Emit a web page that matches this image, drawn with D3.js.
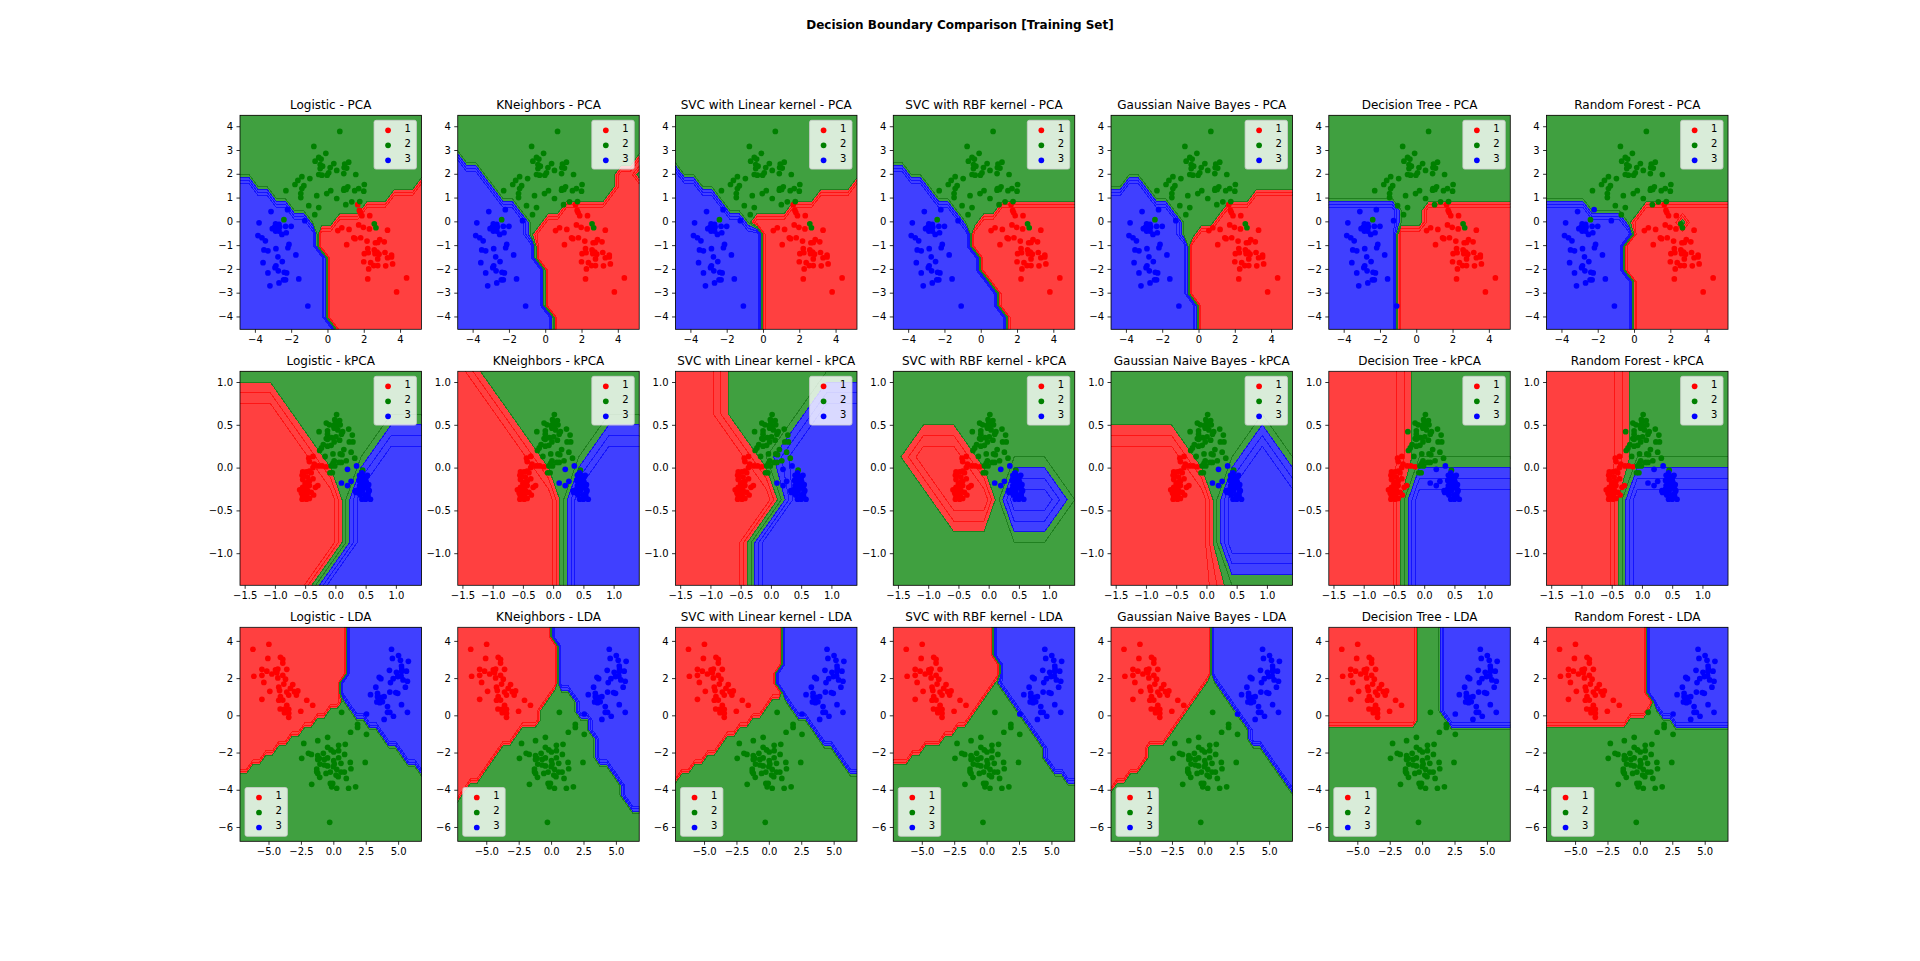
<!DOCTYPE html>
<html><head><meta charset="utf-8">
<script src="https://d3js.org/d3.v7.min.js"></script>
<style>html,body{margin:0;padding:0;background:#fff}svg{display:block}text{font-family:"DejaVu Sans";fill:#000}</style>
</head><body><svg id="c" width="1920" height="961"></svg>
<script>
const suptitle="Decision Boundary Comparison [Training Set]";
const classifiers=["Logistic","KNeighbors","SVC with Linear kernel","SVC with RBF kernel","Gaussian Naive Bayes","Decision Tree","Random Forest"];
const legendLabels=["1","2","3"];
const classColors=["#ff0000","#008000","#0000ff"];

// scatter values, per projection and class
const pca1=[[1.67,.70],[1.76,.46],[1.81,.37],[1.90,.24],[2.33,.24],[.57,-.39],[.79,-.27],[1.19,-.34],[1.72,-.15],[1.98,-.25],[2.31,-.32],[3.31,-.37],[1.45,-.69],[1.52,-.73],[1.83,-.69],[1.06,-.98],[2.18,-.83],[2.64,-.90],[2.77,-.89],[2.88,-.77],[3.13,-.86],[2.22,-1.15],[2.03,-1.36],[2.25,-1.32],[2.58,-1.20],[2.62,-1.36],[2.73,-1.29],[2.84,-1.38],[3.17,-1.31],[3.31,-1.53],[3.53,-1.42],[3.53,-1.50],[2.0,-1.70],[2.38,-1.74],[2.55,-1.86],[2.77,-1.58],[2.77,-1.86],[2.27,-2.0],[3.21,-1.87],[3.59,-1.79],[2.22,-2.42],[4.36,-2.38],[3.81,-2.97]];
const pca2=[[.68,3.78],[-.75,3.15],[-.09,2.86],[-.48,2.69],[-.68,2.53],[-.35,2.62],[-.40,2.39],[-.27,2.32],[-.40,2.22],[.35,2.43],[.15,2.26],[.51,2.14],[.95,2.41],[1.17,2.49],[.92,2.26],[1.06,2.24],[.07,2.04],[-.02,1.94],[-.48,1.97],[-.31,1.94],[.90,2.01],[1.56,1.97],[-.97,1.80],[-1.41,1.88],[-1.63,1.72],[-1.79,1.55],[-1.30,1.50],[-1.41,1.38],[-1.47,1.17],[-1.47,1.0],[-2.29,1.29],[2.03,1.55],[-.59,1.08],[.18,1.29],[-.04,1.17],[.92,1.38],[1.12,1.45],[.90,1.31],[1.03,1.34],[1.50,1.29],[1.72,1.38],[2.0,1.27],[.51,.96],[1.34,.82],[1.78,.83],[1.01,.70],[-1.03,.66],[-.48,.58],[-.70,.28],[-2.40,.07],[2.58,-.10],[2.67,-.27]];
const pca3=[[-3.11,.41],[-2.20,.49],[-3.77,-.06],[-1.25,.03],[-2.86,-.10],[-2.67,-.13],[-2.91,-.24],[-3.04,-.31],[-2.78,-.28],[-2.64,-.24],[-2.31,-.21],[-2.0,-.21],[-2.86,-.41],[-2.67,-.41],[-2.51,-.55],[-2.27,-.48],[-3.83,-.60],[-3.61,-.69],[-3.42,-.82],[-2.12,-.97],[-2.18,-1.11],[-2.84,-1.15],[-3.5,-1.2],[-3.28,-1.24],[-1.74,-1.41],[-2.73,-1.49],[-2.49,-1.69],[-3.55,-1.74],[-2.84,-1.87],[-2.89,-1.95],[-2.71,-2.08],[-3.28,-2.17],[-2.38,-2.14],[-2.25,-2.17],[-1.58,-2.42],[-2.42,-2.46],[-2.31,-2.46],[-2.67,-2.59],[-3.17,-2.71],[-1.08,-3.56]];
const kpca1=[[-.37,.13],[-.44,.11],[-.43,.07],[-.35,.04],[-.28,.02],[-.22,.02],[-.15,.01],[-.37,0],[-.43,-.04],[-.54,-.05],[-.48,-.05],[-.55,-.09],[-.40,-.06],[-.46,-.11],[-.54,-.14],[-.43,-.16],[-.50,-.19],[-.29,-.21],[-.33,-.23],[-.46,-.21],[-.54,-.23],[-.59,-.26],[-.51,-.27],[-.46,-.27],[-.56,-.30],[-.36,-.32],[-.48,-.31],[-.54,-.34],[-.55,-.37],[-.48,-.37],[-.43,-.36],[-.51,-.30],[-.43,-.21],[-.48,-.25],[-.53,-.09],[-.37,-.13],[-.46,-.17],[-.47,-.34],[-.40,-.29]];
const kpca2=[[.02,.62],[-.15,.52],[-.10,.50],[-.27,.42],[-.13,.43],[-.01,.56],[.07,.55],[0,.52],[-.03,.49],[.02,.48],[.08,.50],[-.02,.46],[.04,.44],[.12,.42],[.22,.45],[.10,.39],[-.13,.39],[-.15,.34],[-.06,.35],[.07,.32],[-.02,.30],[.28,.38],[.23,.30],[.29,.30],[-.13,.25],[-.07,.26],[-.20,.27],[-.23,.23],[-.26,.20],[.14,.21],[-.17,.13],[-.04,.16],[.08,.16],[.11,.15],[.26,.18],[.32,.11],[-.02,.08],[-.04,.05],[.06,.06],[.10,.06],[.18,.08],[-.09,-.06],[-.05,-.06],[-.07,.02],[-.01,.02],[.45,-.03],[-.13,.33],[.01,.36]];
const kpca3=[[.20,-.02],[.35,.02],[.10,-.18],[.26,-.16],[.20,-.21],[.44,-.06],[.40,-.09],[.53,-.09],[.45,-.12],[.50,-.13],[.39,-.15],[.45,-.17],[.51,-.17],[.55,-.20],[.40,-.21],[.47,-.22],[.51,-.23],[.33,-.27],[.39,-.25],[.45,-.27],[.56,-.27],[.54,-.30],[.41,-.32],[.49,-.32],[.44,-.37],[.50,-.37],[.54,-.34],[.58,-.37],[.48,-.18],[.40,-.30],[.34,-.29],[.45,-.09],[.54,-.25]];
const lda1=[[-4.97,3.82],[-6.2,3.55],[-5.05,3.06],[-4.08,3.12],[-3.9,3.01],[-3.9,2.81],[-5.51,2.47],[-5.13,2.37],[-5.51,2.15],[-6.13,2.10],[-4.74,2.22],[-4.46,2.44],[-4.28,2.49],[-4.36,2.29],[-3.59,2.47],[-4.28,2.01],[-3.9,2.15],[-3.69,1.94],[-5.36,1.77],[-3.82,1.68],[-3.13,1.65],[-4.21,1.51],[-3.31,1.45],[-4.15,1.33],[-4.9,1.29],[-3.59,1.25],[-3.0,1.27],[-2.74,1.31],[-3.44,1.09],[-2.85,1.09],[-4.08,1.0],[-5.51,.86],[-4.21,.81],[-3.9,.82],[-2.05,.81],[-3.59,.54],[-1.59,.54],[-4.1,.34],[-3.79,.32],[-3.44,.32],[-2.51,.22],[-3.77,.14],[-3.44,.11],[-3.44,-.11]];
const lda2=[[.64,.16],[1.87,-.48],[1.87,-.65],[1.33,-.91],[2.56,-1.02],[-.44,-1.18],[-1.2,-1.36],[-2.28,-1.51],[-.44,-1.72],[.41,-1.61],[.92,-1.56],[-.18,-1.86],[.03,-1.97],[.41,-1.90],[-.77,-2.04],[-1.92,-2.04],[-1.69,-2.1],[-2.44,-2.31],[-1.2,-2.17],[-1.08,-2.31],[-.44,-2.29],[-.69,-2.37],[.87,-2.1],[.41,-2.28],[.03,-2.44],[-1.2,-2.37],[-1.03,-2.62],[-.69,-2.67],[.08,-2.62],[-.44,-2.72],[0,-2.76],[1.31,-2.53],[2.46,-2.53],[-1.28,-2.89],[.59,-2.58],[.26,-2.9],[-1.28,-3.03],[-1.2,-3.12],[-.56,-3.12],[-.23,-3.05],[.59,-3.05],[.85,-3.05],[.21,-3.21],[.38,-3.3],[-1.05,-3.33],[1.36,-2.87],[1.0,-3.39],[-1.67,-3.71],[-.23,-3.66],[-.05,-3.66],[-.13,-3.84],[.26,-3.92],[1.18,-3.92],[1.72,-3.84],[-.28,-5.75]];
const lda3=[[4.49,3.55],[5.03,3.21],[4.56,3.06],[5.18,2.96],[5.79,2.9],[5.26,2.65],[5.28,2.49],[4.33,2.42],[4.87,2.31],[5.26,2.35],[5.64,2.37],[3.54,2.04],[3.67,1.97],[4.62,1.97],[4.97,2.08],[5.23,2.11],[5.38,1.9],[5.72,1.83],[4.41,1.76],[3.28,1.51],[5.56,1.51],[4.36,1.25],[4.82,1.22],[4.97,1.18],[3.41,1.18],[2.87,1.11],[3.56,.91],[3.41,1.0],[3.92,1.0],[3.67,.97],[3.36,.72],[3.59,.68],[3.79,.73],[5.26,.57],[4.18,.47],[5.72,.16],[4.18,.16],[4.36,.16],[2.56,.07],[4.64,-.05],[3.92,-.22]];

// predicted class on each classifier's coarse mesh. PCA rows: [cells of class 3 from the left, first cell of class 1]; the rows above are all class 2
const pcaLogistic=[[2,20],[4,17],[6,14],[8,11],[9,9],[9,9],[10,10],[10,10],[10,10],[10,10],[10,10],[10,10],[11,11]];
const pcaKNeighbors=[[1,20],[3,18],[4,18],[5,17],[7,12],[8,10],[8,9],[9,9],[9,9],[10,10],[10,10],[10,10],[10,10],[11,11],[11,11]];
const pcaSvcLinear=[[1,21],[3,20],[5,16],[6,13],[8,9],[10,10],[10,10],[10,10],[10,10],[10,10],[10,10],[10,10],[10,10],[10,10]];
const pcaSvcRbf=[[2,21],[4,21],[5,21],[7,12],[8,10],[9,9],[9,9],[10,10],[10,10],[11,11],[12,12],[12,12],[13,13],[13,13]];
const pcaBayes=[[0,21],[5,16],[7,13],[8,12],[8,10],[9,9],[9,9],[9,9],[9,9],[9,9],[10,10],[10,10],[10,10]];
const pcaTree=[[8,11],[8,11],[8,8],[8,8],[8,8],[8,8],[8,8],[8,8],[8,8],[8,8],[8,8]];
const pcaForest=[[5,11],[9,10],[10,10],[9,9],[9,9],[9,9],[10,10],[10,10],[10,10],[10,10],[10,10]];
// single mesh cells that do not fit the row pattern: [classifier index, row, column, class]
const pcaCellExceptions=[[1,5,20,2],[4,6,2,3],[4,6,3,3],[6,9,15,2]];
// kPCA mesh, one digit per cell, top row first
const kpcaLogistic=["2222222","1122222","1112233","1111333","1111333","1113333"];
const kpcaKNeighbors=["1222222","1122222","1112233","1111333","1111333","1111333"];
const kpcaSvcLinear=["1122222","1122233","1112333","1111333","1113333","1113333"];
const kpcaSvcRbf=["2222222","2222222","2112222","2211332","2222222","2222222"];
const kpcaBayes=["2222222","2222222","1112232","1111333","1111333","1111222"];
const kpcaTree=["1112222","1112222","1112222","1113333","1113333","1113333"];
const kpcaForest=["1112222","1112222","1112222","1113333","1113333","1113333"];
// LDA rows: [cells of class 1 from the left, first cell of class 3]; the rows below are all class 2
const ldaLogistic=[[17,17],[17,17],[17,17],[17,17],[17,17],[17,17],[16,16],[16,16],[16,17],[14,18],[12,20],[10,22],[8,23],[6,25],[4,26],[2,28]];
const ldaKNeighbors=[[15,15],[15,15],[16,16],[16,16],[16,16],[16,16],[16,16],[15,18],[14,19],[13,19],[13,21],[10,21],[9,22],[7,22],[6,22],[5,24],[4,25],[2,26],[1,26],[0,27]];
const ldaSvcLinear=[[17,17],[17,17],[17,17],[17,17],[17,17],[16,16],[16,16],[17,17],[15,18],[14,19],[12,21],[10,22],[8,23],[7,25],[5,26],[3,27],[1,29]];
const ldaSvcRbf=[[16,16],[16,16],[16,16],[16,16],[17,17],[17,17],[16,17],[15,18],[14,19],[13,20],[12,21],[10,22],[8,23],[5,24],[3,24],[0,25],[0,27]];
const ldaBayes=[[16,16],[16,16],[16,16],[16,16],[16,16],[16,16],[15,17],[14,18],[13,19],[12,20],[11,21],[10,22],[9,22],[6,24],[6,25],[5,26],[3,27],[1,28]];
const ldaTree=[[14,18],[14,18],[14,18],[14,18],[14,18],[14,18],[14,18],[14,18],[14,18],[14,18],[14,19]];
const ldaForest=[[16,16],[16,16],[16,16],[16,16],[16,16],[16,16],[16,16],[16,16],[17,17],[16,18],[13,20]];

const pcaTicksX=[-4,-2,0,2,4], pcaTicksY=[-4,-3,-2,-1,0,1,2,3,4];
const kpcaTicksX=[-1.5,-1,-.5,0,.5,1], kpcaTicksY=[-1,-.5,0,.5,1];
const ldaTicksX=[-5,-2.5,0,2.5,5], ldaTicksY=[-6,-4,-2,0,2,4];

function pcaMesh(rows,idx){
  const nx=21,ny=19,m=[];
  const pad=ny-rows.length;
  for(let j=0;j<ny;j++){const r=j<pad?[0,nx]:rows[j-pad];
    for(let i=0;i<nx;i++) m.push(i<r[0]?3:(i>=r[1]?1:2));}
  pcaCellExceptions.filter(e=>e[0]===idx).forEach(e=>{m[e[1]*nx+e[2]]=e[3];});
  return m;
}
function ldaMesh(rows){
  const nx=29,ny=24,m=[];
  for(let j=0;j<ny;j++){const r=j<rows.length?rows[j]:[0,nx];
    for(let i=0;i<nx;i++) m.push(i<r[0]?1:(i>=r[1]?3:2));}
  return m;
}
function kpcaMesh(rows){return rows.join("").split("").map(Number);}

const projections=[
 {name:"PCA",nx:21,ny:19,x0:-4.82,y1:4.46,tx:pcaTicksX,ty:pcaTicksY,fx:d3.format("d"),fy:d3.format("d"),pts:[pca1,pca2,pca3],legend:"ur",
  mesh:[pcaLogistic,pcaKNeighbors,pcaSvcLinear,pcaSvcRbf,pcaBayes,pcaTree,pcaForest].map(pcaMesh)},
 {name:"kPCA",nx:7,ny:6,x0:-1.577,y1:1.125,tx:kpcaTicksX,ty:kpcaTicksY,fx:d3.format(".1f"),fy:d3.format(".1f"),pts:[kpca1,kpca2,kpca3],legend:"ur",
  mesh:[kpcaLogistic,kpcaKNeighbors,kpcaSvcLinear,kpcaSvcRbf,kpcaBayes,kpcaTree,kpcaForest].map(kpcaMesh)},
 {name:"LDA",nx:29,ny:24,x0:-7.2,y1:4.73,tx:ldaTicksX,ty:ldaTicksY,fx:d3.format(".1f"),fy:d3.format("d"),pts:[lda1,lda2,lda3],legend:"ll",
  mesh:[ldaLogistic,ldaKNeighbors,ldaSvcLinear,ldaSvcRbf,ldaBayes,ldaTree,ldaForest].map(r=>ldaMesh(r))}
];

const STEP=.5, AX_L=240, AX_PITCH=217.76, AX_W=181.46, AX_T=115.3, AX_VP=256, AX_H=214;
const fillRed="rgb(255,64,64)",fillGreen="rgb(64,160,64)",fillBlue="rgb(64,64,255)";
const bands=[[1.75,fillGreen],[2.25,fillBlue]];
const seams=[[1.25,"rgb(255,20,20)"],[1.5,"rgb(255,20,20)"],[1.75,"rgb(32,128,32)"],[2.0001,"rgb(32,128,32)"],[2.25,"rgb(20,20,235)"],[2.5,"rgb(20,20,255)"],[2.75,"rgb(20,20,255)"]];
const minus=s=>s.replace(/-/g,"\u2212");

const svg=d3.select("#c");
svg.append("text").attr("x",960).attr("y",29).attr("text-anchor","middle").style("font-size","12px").style("font-weight","bold").text(suptitle);

projections.forEach((p,row)=>{
  classifiers.forEach((name,col)=>{
    const L=AX_L+col*AX_PITCH,T=AX_T+row*AX_VP;
    const x=d3.scaleLinear().domain([p.x0,p.x0+STEP*(p.nx-1)]).range([L,L+AX_W]);
    const y=d3.scaleLinear().domain([p.y1-STEP*(p.ny-1),p.y1]).range([T+AX_H,T]);
    const g=svg.append("g");
    const id=`clip-${row}-${col}`;
    g.append("clipPath").attr("id",id).append("rect").attr("x",L).attr("y",T).attr("width",AX_W).attr("height",AX_H);
    const plot=g.append("g").attr("clip-path",`url(#${id})`);
    plot.append("rect").attr("x",L).attr("y",T).attr("width",AX_W).attr("height",AX_H).attr("fill",fillRed);
    const values=p.mesh[col];
    const cg=d3.contours().size([p.nx,p.ny]).smooth(true);
    const pathOf=t=>{
      const geom=cg.contour(values,t);
      return geom.coordinates.map(poly=>poly.map(ring=>"M"+ring.map(c=>
        x(p.x0+(c[0]-.5)*STEP).toFixed(2)+","+y(p.y1-(c[1]-.5)*STEP).toFixed(2)).join("L")+"Z").join("")).join("");
    };
    bands.forEach(b=>plot.append("path").attr("d",pathOf(b[0])).attr("fill",b[1]).attr("fill-rule","evenodd").attr("shape-rendering","crispEdges"));
    seams.forEach(s=>plot.append("path").attr("d",pathOf(s[0])).attr("fill","none").attr("stroke",s[1]).attr("stroke-width",1).attr("shape-rendering","crispEdges"));
    p.pts.forEach((pts,k)=>{
      plot.selectAll(null).data(pts).enter().append("circle")
        .attr("cx",d=>x(d[0])).attr("cy",d=>y(d[1])).attr("r",2.85).attr("fill",classColors[k]);
    });
    g.append("rect").attr("x",L).attr("y",T).attr("width",AX_W).attr("height",AX_H).attr("fill","none").attr("stroke","#000").attr("stroke-width",.8);
    const ax=g.append("g").attr("transform",`translate(0,${T+AX_H})`)
      .call(d3.axisBottom(x).tickValues(p.tx).tickSize(3.5).tickPadding(3.5).tickFormat(d=>minus(p.fx(d))));
    const ay=g.append("g").attr("transform",`translate(${L},0)`)
      .call(d3.axisLeft(y).tickValues(p.ty).tickSize(3.5).tickPadding(3.5).tickFormat(d=>minus(p.fy(d))));
    [ax,ay].forEach(a=>{a.select(".domain").remove();a.selectAll("line").attr("stroke","#000").attr("stroke-width",.8);
      a.selectAll("text").style("font-size","10px").style("font-family","DejaVu Sans").attr("fill","#000");});
    g.append("text").attr("x",L+AX_W/2).attr("y",T-6).attr("text-anchor","middle").style("font-size","12px").text(name+" - "+p.name);
    // legend
    const LW=42.4,LH=48.8;
    const lx=p.legend==="ur"?L+AX_W-5-LW:L+5, ly=p.legend==="ur"?T+5:T+AX_H-5-LH;
    g.append("rect").attr("x",lx).attr("y",ly).attr("width",LW).attr("height",LH).attr("rx",2).attr("ry",2)
      .attr("fill","#fff").attr("fill-opacity",.8).attr("stroke","#ccc").attr("stroke-opacity",.8).attr("stroke-width",1);
    legendLabels.forEach((lab,k)=>{
      g.append("circle").attr("cx",lx+14).attr("cy",ly+10+15*k).attr("r",2.85).attr("fill",classColors[k]);
      g.append("text").attr("x",lx+30.5).attr("y",ly+11.6+15*k).style("font-size","10px").text(lab);
    });
  });
});
</script></body></html>
